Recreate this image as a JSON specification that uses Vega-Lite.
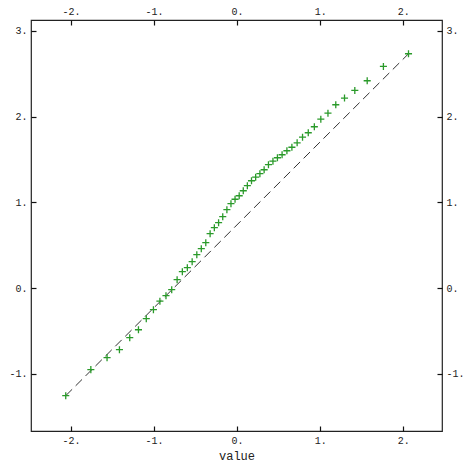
{
  "$schema": "https://vega.github.io/schema/vega-lite/v6.json",
  "width": 411,
  "height": 411,
  "autosize": {"type": "none"},
  "padding": {"left": 31, "top": 20, "right": 32, "bottom": 33},
  "background": "white",
  "config": {
    "view": {"stroke": "#222", "strokeWidth": 1.2},
    "axis": {
      "grid": false,
      "domain": false,
      "ticks": true,
      "offset": -5,
      "tickColor": "#111",
      "tickSize": 5,
      "tickWidth": 1.2,
      "labelFont": "Liberation Mono",
      "labelFontSize": 10,
      "labelColor": "#222",
      "labelPadding": 4,
      "titleFont": "Liberation Mono",
      "titleFontSize": 12,
      "titleFontWeight": "normal",
      "titleColor": "#222",
      "labelExpr": "datum.value + '.'"
    }
  },
  "datasets": {
    "pts": [
      {"q": -2.062, "v": -1.257}, {"q": -1.760, "v": -0.953}, {"q": -1.565, "v": -0.813},
      {"q": -1.416, "v": -0.720}, {"q": -1.292, "v": -0.580}, {"q": -1.187, "v": -0.487},
      {"q": -1.093, "v": -0.358}, {"q": -1.007, "v": -0.253}, {"q": -0.929, "v": -0.154},
      {"q": -0.856, "v": -0.090}, {"q": -0.787, "v": -0.020}, {"q": -0.722, "v": 0.097},
      {"q": -0.659, "v": 0.190}, {"q": -0.599, "v": 0.237}, {"q": -0.541, "v": 0.307},
      {"q": -0.485, "v": 0.389}, {"q": -0.431, "v": 0.459}, {"q": -0.377, "v": 0.529},
      {"q": -0.325, "v": 0.634}, {"q": -0.274, "v": 0.704}, {"q": -0.223, "v": 0.762},
      {"q": -0.173, "v": 0.832}, {"q": -0.123, "v": 0.914}, {"q": -0.074, "v": 0.984},
      {"q": -0.025, "v": 1.036}, {"q": 0.025, "v": 1.077}, {"q": 0.074, "v": 1.135},
      {"q": 0.123, "v": 1.194}, {"q": 0.173, "v": 1.252}, {"q": 0.223, "v": 1.293},
      {"q": 0.274, "v": 1.334}, {"q": 0.325, "v": 1.380}, {"q": 0.377, "v": 1.439},
      {"q": 0.431, "v": 1.480}, {"q": 0.485, "v": 1.520}, {"q": 0.541, "v": 1.555},
      {"q": 0.599, "v": 1.602}, {"q": 0.659, "v": 1.643}, {"q": 0.722, "v": 1.695},
      {"q": 0.787, "v": 1.760}, {"q": 0.856, "v": 1.812}, {"q": 0.929, "v": 1.882},
      {"q": 1.007, "v": 1.970}, {"q": 1.093, "v": 2.040}, {"q": 1.187, "v": 2.139},
      {"q": 1.292, "v": 2.217}, {"q": 1.416, "v": 2.306}, {"q": 1.565, "v": 2.419},
      {"q": 1.760, "v": 2.586}, {"q": 2.062, "v": 2.734}
    ],
    "ref": [
      {"q": -2.062, "v": -1.257},
      {"q": 2.062, "v": 2.734}
    ]
  },
  "layer": [
    {
      "data": {"name": "ref"},
      "mark": {"type": "line", "color": "#333", "strokeWidth": 1, "strokeDash": [9, 5]},
      "encoding": {
        "x": {"field": "q", "type": "quantitative", "scale": {"domain": [-2.48, 2.465], "nice": false, "zero": false},
              "axis": {"orient": "bottom", "title": "value", "values": [-2, -1, 0, 1, 2], "titlePadding": 5}},
        "y": {"field": "v", "type": "quantitative", "scale": {"domain": [-1.669, 3.128], "nice": false, "zero": false},
              "axis": {"orient": "left", "title": null, "values": [-1, 0, 1, 2, 3]}}
      }
    },
    {
      "data": {"name": "pts"},
      "mark": {"type": "point", "shape": "M-1,0L1,0M0,-1L0,1", "filled": false, "stroke": "#2a9a2a", "strokeWidth": 1.3, "size": 50, "opacity": 1},
      "encoding": {
        "x": {"field": "q", "type": "quantitative",
              "axis": {"orient": "top", "title": null, "values": [-2, -1, 0, 1, 2]}},
        "y": {"field": "v", "type": "quantitative",
              "axis": {"orient": "right", "title": null, "values": [-1, 0, 1, 2, 3]}}
      }
    }
  ],
  "resolve": {"axis": {"x": "independent", "y": "independent"}}
}
